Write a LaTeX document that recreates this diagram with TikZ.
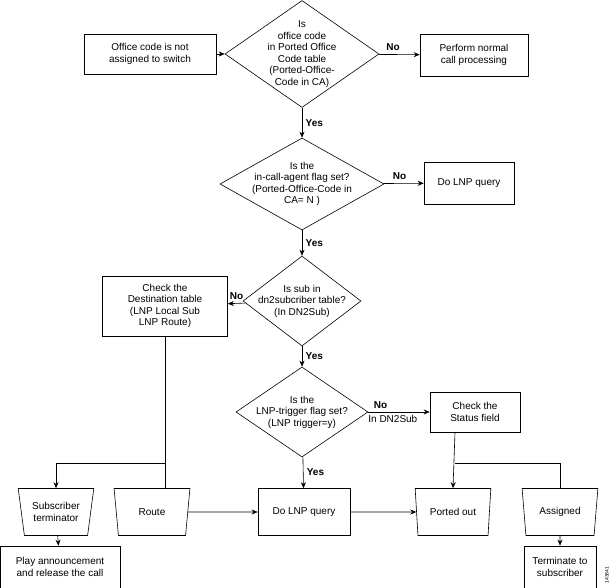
\documentclass[tikz,border=0pt]{standalone}
\usepackage{fontspec}
\setmainfont{Liberation Sans}
\usetikzlibrary{shapes.geometric,arrows.meta}
\begin{document}
\begin{tikzpicture}[x=1pt,y=-1pt,font=\fontsize{10}{11.5}\selectfont,
  box/.style={draw,line width=0.6pt,align=center,inner sep=0pt},
  dia/.style={draw,diamond,line width=0.6pt,inner sep=0pt},
  trap/.style={draw,trapezium,trapezium angle=76,shape border rotate=180,trapezium stretches=true,minimum width=76,minimum height=47,inner sep=0pt,align=center,line width=0.6pt},
  arr/.style={-{Stealth[length=6pt,width=5pt]},line width=0.6pt},
  ln/.style={line width=0.6pt}]
\useasboundingbox (0,0) rectangle (616,588);
% boxes
\node[box,minimum width=132,minimum height=40] (oc) at (150,54) {Office code is not\\assigned to switch};
\node[box,minimum width=108,minimum height=42] (pn) at (474,55) {Perform normal\\call processing};
\node[box,minimum width=90,minimum height=42] (lnp1) at (469,183) {Do LNP query};
\node[box,minimum width=125,minimum height=60] (cd) at (165,306) {Check the\\Destination table\\(LNP Local Sub\\LNP Route)};
\node[box,minimum width=90,minimum height=40] (cs) at (475,412) {Check the\\Status field};
% diamonds
\node[dia,minimum width=154,minimum height=107] (d1) at (302,54) {};
\node[align=center] at (302,54) {Is\\office code\\in Ported Office\\Code table\\(Ported-Office-\\Code in CA)};
\node[dia,minimum width=164,minimum height=92] (d2) at (302,184) {};
\node[align=center] at (302,184) {Is the\\in-call-agent flag set?\\(Ported-Office-Code in\\CA= N )};
\node[dia,minimum width=118,minimum height=90] (d3) at (302,301) {};
\node[align=center] at (302,301) {Is sub in\\dn2subcriber table?\\(In DN2Sub)};
\node[dia,minimum width=132,minimum height=90] (d4) at (302,412) {};
\node[align=center] at (302,412) {Is the\\LNP-trigger flag set?\\(LNP trigger=y)};
% bottom row
\node[trap] (st) at (56,512) {Subscriber\\terminator};
\node[trap] (rt) at (152,512) {Route};
\node[box,minimum width=92,minimum height=47] (lnp2) at (304,512) {Do LNP query};
\node[trap] (po) at (453,512) {Ported out};
\node[trap] (as) at (560,512) {Assigned};
\node[box,minimum width=120,minimum height=42] (pa) at (60,567) {Play announcement\\and release the call};
\node[box,minimum width=72,minimum height=42] (tt) at (560,567) {Terminate to\\subscriber};
\node[rotate=90,font=\fontsize{5}{6}\selectfont] (id) at (607,575) {143841};
% connectors
\draw[arr] (oc) -- (d1);
\draw[arr] (d1) -- (pn) node[pos=0.35,above,font=\bfseries\fontsize{10}{11}\selectfont]{No};
\draw[arr] (d1) -- (d2) node[midway,right,font=\bfseries\fontsize{10}{11}\selectfont]{Yes};
\draw[arr] (d2) -- (lnp1) node[pos=0.4,above,font=\bfseries\fontsize{10}{11}\selectfont]{No};
\draw[arr] (d2) -- (d3) node[midway,right,font=\bfseries\fontsize{10}{11}\selectfont]{Yes};
\draw[arr] (d3) -- (cd) node[midway,above,font=\bfseries\fontsize{10}{11}\selectfont]{No};
\draw[arr] (d3) -- (d4) node[midway,right,font=\bfseries\fontsize{10}{11}\selectfont]{Yes};
\draw[arr] (d4) -- (cs) node[pos=0.2,above,font=\bfseries\fontsize{10}{11}\selectfont]{No} node[pos=0.4,below]{In DN2Sub};
\draw[arr] (d4) -- (lnp2) node[midway,right,font=\bfseries\fontsize{10}{11}\selectfont]{Yes};
\coordinate (j1) at (165,463);
\coordinate (j2) at (455,463);
\draw[ln] (cd.south) -- (rt.north -| cd.south);
\draw[arr] (j1) -| (st.north);
\draw[arr] (cs.south -| j2) -- (po.north);
\draw[ln] (j2) -| (as.north);
\draw[arr] (rt) -- (lnp2);
\draw[arr] (lnp2) -- (po);
\draw[arr] (st) -- (pa);
\draw[arr] (as) -- (tt);
\end{tikzpicture}
\end{document}
